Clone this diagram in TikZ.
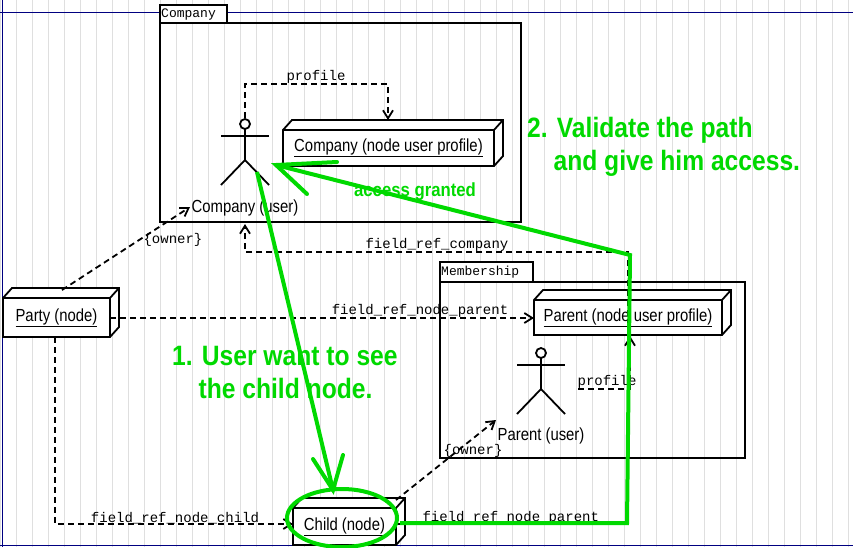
\documentclass[tikz,border=0pt]{standalone}
\usepackage{fontspec}
\setmainfont{Liberation Sans}
\setmonofont{Liberation Mono}
\usetikzlibrary{arrows.meta,calc}
\begin{document}
\begin{tikzpicture}[x=1pt,y=-1pt,
  dep/.style={draw,line width=1.8pt,dash pattern=on 6pt off 4pt},
  opn/.style={-{Straight Barb[length=8pt,width=10pt]}},
  lbl/.style={font=\ttfamily\fontsize{14}{16}\selectfont,inner sep=0pt},
  nlbl/.style={font=\fontsize{17.5}{19}\selectfont,inner sep=0pt,xscale=0.85},
  green/.style={draw=green!85!black,line width=4pt},
  gtxt/.style={font=\bfseries\fontsize{28}{31}\selectfont,text=green!85!black,align=left,inner sep=0pt,xscale=0.88},
  pkg/.style={draw,line width=1.8pt},
  thk/.style={line width=1.8pt}]
\useasboundingbox (0,0) rectangle (853,547);
\fill[white] (0,0) rectangle (853,547);
\draw[gray!25,step=16] (0,0) grid (853,547);
\draw[blue!50!black] (0,12) -- (853,12);
\draw[blue!50!black] (0,545) -- (853,545);
\draw[blue!50!black] (2,0) -- (2,547);
% Company package
\draw[pkg,fill=white] (160,5) rectangle (227,23);
\node[lbl,anchor=west,font=\ttfamily\fontsize{13}{14}\selectfont] (tcomp) at (161,14) {Company};
\draw[pkg] (160,23) rectangle (521,222);
% Membership package
\draw[pkg,fill=white] (440,262) rectangle (533,282);
\node[lbl,anchor=west,font=\ttfamily\fontsize{13}{14}\selectfont] (tmem) at (441,272) {Membership};
\draw[pkg] (440,282) rectangle (745,458);
% 3D nodes
\newcommand{\cube}[5]{% name, x1,y1,x2,y2
  \draw[thk,fill=white] (#2,#3) -- (#2+9,#3-10) -- (#4+9,#3-10) -- (#4+9,#5-10) -- (#4,#5) -- (#2,#5) -- cycle;
  \draw[thk] (#2,#3) -- (#4,#3) -- (#4,#5);
  \draw[thk] (#4,#3) -- (#4+9,#3-10);
  \coordinate (#1) at ({(#2+#4)/2},{(#3+#5)/2});}
\cube{cprof}{283}{130}{494}{166}
\node[nlbl] (tcprof) at (cprof) {\underline{Company (node user profile)}};
\cube{pprof}{534}{300}{722}{335}
\node[nlbl] (tpprof) at (pprof) {\underline{Parent (node user profile)}};
\cube{party}{3}{298}{110}{337}
\node[nlbl] (tparty) at (party) {\underline{Party (node)}};
\cube{child}{293}{508}{396}{545}
\node[nlbl] (tchild) at (child) {\underline{Child (node)}};
% actors
\newcommand{\actor}[3]{%
  \draw[thk] (#2,#3) circle (5);
  \draw[thk] (#2,#3+5) -- (#2,#3+36);
  \draw[thk] (#2-24,#3+12) -- (#2+24,#3+12);
  \draw[thk] (#2-24,#3+61) -- (#2,#3+36) -- (#2+24,#3+61);
  \coordinate (#1) at (#2,#3+30);}
\actor{cuser}{245}{124}
\node[nlbl] (tcuser) at (245,208) {Company (user)};
\actor{puser}{541}{353}
\node[nlbl] (tpuser) at (541,436) {Parent (user)};
% dependencies
\coordinate (a1) at (245,118);
\coordinate (a2) at (388,120);
\draw[dep,opn] (a1) -- (245,84) -- (388,84) -- (a2);
\node[lbl] (lprof1) at (316,77) {profile};
\coordinate (b1) at (578,389);
\coordinate (b2) at (630,336);
\draw[dep,opn] (b1) -- (630,389) -- (b2);
\node[lbl] (lprof2) at (607,382) {profile};
\coordinate (c1) at (110,318);
\coordinate (c2) at (534,318);
\draw[dep,opn] (c1) -- (c2);
\node[lbl] (l3) at (420,311) {field\_ref\_node\_parent};
\coordinate (d1) at (55,337);
\coordinate (d2) at (293,524);
\draw[dep,opn] (d1) -- (55,524) -- (d2);
\node[lbl] (l4) at (175,518) {field\_ref\_node\_child};
\coordinate (e1) at (396,524);
\coordinate (e2) at (245,224);
\draw[dep,opn] (e1) -- (628,524) -- (628,252) -- (245,252) -- (e2);
\node[lbl] (l5) at (515,518) {field\_ref\_node\_parent\_};
\node[lbl] (l6) at (437,245) {field\_ref\_company};
\coordinate (f1) at (62,290);
\coordinate (f2) at (190,207);
\draw[dep,opn] (f1) -- (f2);
\node[lbl] (l7) at (173,240) {\{owner\}};
\coordinate (g1) at (396,500);
\coordinate (g2) at (496,420);
\draw[dep,opn] (g1) -- (g2);
\node[lbl] (l8) at (473,451) {\{owner\}};
% green annotations
\coordinate (h1) at (257,172);
\coordinate (h2) at (333,490);
\draw[green] (h1) -- (h2);
\draw[green,line cap=round] (313,459) -- (333,490) -- (343,455);
\draw[green] (342,518) ellipse (55 and 29);
\coordinate (k1) at (400,523);
\coordinate (k2) at (276,165);
\draw[green] (k1) -- (627,523) -- (630,255) -- (k2);
\draw[green,line cap=round] (307,194) -- (276,165) -- (337,162);
\node[gtxt,font=\bfseries\fontsize{19}{23}\selectfont] (tacc) at (415,192) {access granted};
\node[gtxt,anchor=west] (t2) at (527,147) {2. Validate the path\\[2pt]\hspace*{30pt}and give him access.};
\node[gtxt,anchor=west] (t1) at (172,372) {1. User want to see\\[2pt]\hspace*{30pt}the child node.};
\end{tikzpicture}
\end{document}
